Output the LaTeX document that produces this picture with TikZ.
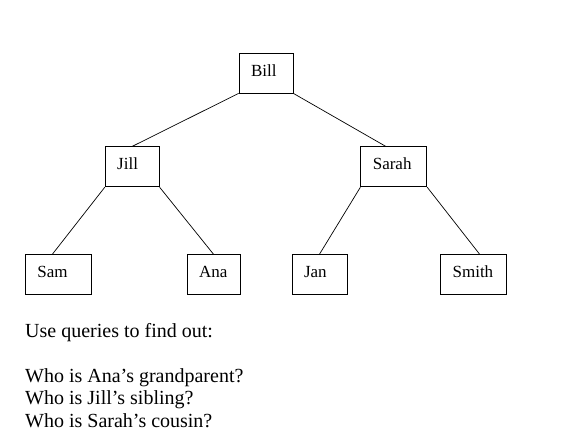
\documentclass[tikz,border=0pt]{standalone}
\usepackage{fontspec}
\setmainfont{Liberation Serif}
\usetikzlibrary{positioning}

\begin{document}
\begin{tikzpicture}[
      x=1pt, y=-1pt,
      person/.style = {draw, line width=0.8pt, minimum height=40pt,
                       inner xsep=12pt, align=left,
                       text height=12pt, text depth=6pt,
                       font=\fontsize{17}{20}\selectfont},
      link/.style   = {line width=0.7pt},
    ]
    \useasboundingbox (0,0) rectangle (587,445);

    \node[person, text width=30pt] (bill) at (266,73) {Bill};
    \node[person, text width=30pt, below left=53pt and 79pt of bill]   (jill)  {Jill};
    \node[person, text width=42pt, below right=53pt and 67pt of bill]  (sarah) {Sarah};
    \node[person, text width=42pt, below left=67pt and 13pt of jill]   (sam)   {Sam};
    \node[person, text width=29pt, below right=67pt and 27pt of jill]  (ana)   {Ana};
    \node[person, text width=31pt, below left=67pt and 13pt of sarah]  (jan)   {Jan};
    \node[person, text width=42pt, below right=67pt and 13pt of sarah] (smith) {Smith};

    \draw[link] (bill.south west)  -- (jill.north);
    \draw[link] (bill.south east)  -- ([xshift=-8pt]sarah.north);
    \draw[link] (jill.south west)  -- ([xshift=-6pt]sam.north);
    \draw[link] (jill.south east)  -- (ana.north);
    \draw[link] (sarah.south west) -- (jan.north);
    \draw[link] (sarah.south east) -- ([xshift=6pt]smith.north);

    % base of a multi-line node is its last line
    \node[anchor=base west, align=left, inner sep=0pt,
          font=\fontsize{20}{22.5}\selectfont] (queries) at (25,427)
      {Use queries to find out:\\[22.5pt]
       Who is Ana’s grandparent?\\
       Who is Jill’s sibling?\\
       Who is Sarah’s cousin?};
  \end{tikzpicture}
\end{document}
